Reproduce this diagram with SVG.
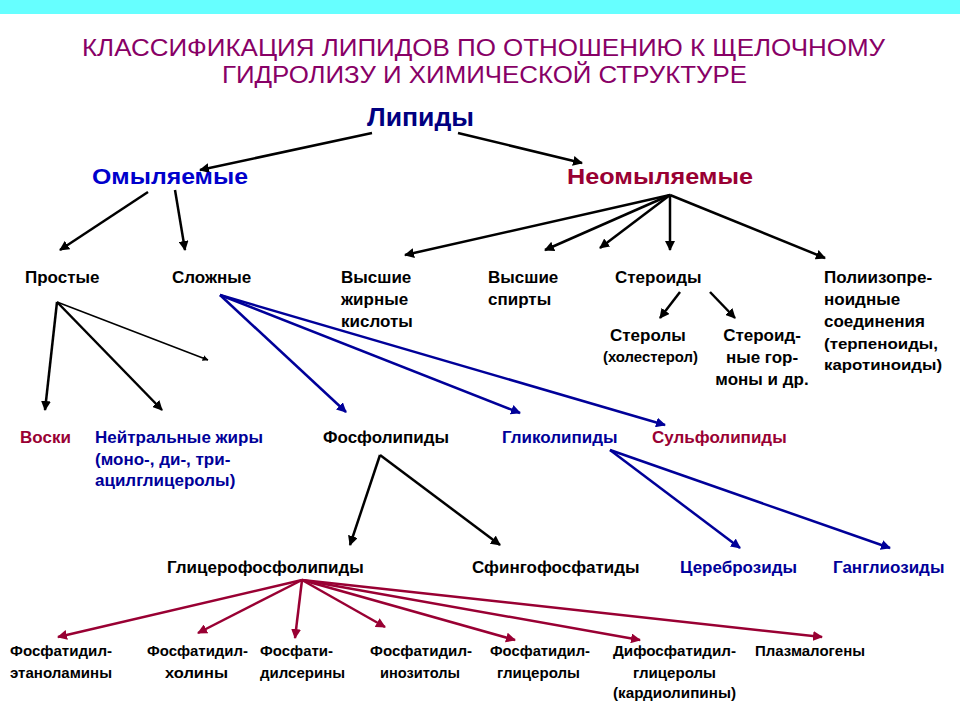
<svg xmlns="http://www.w3.org/2000/svg" width="960" height="720" viewBox="0 0 960 720">
<style>
text{font-family:"Liberation Sans",Arial,sans-serif;font-weight:bold}
.n{font-size:17px;fill:#000}
.s{font-size:15px;fill:#000}
.sm{font-size:15px;fill:#000}
.blue{fill:#000099}.mar{fill:#990033}
.lk{stroke:#000;stroke-width:2.5;fill:none;marker-end:url(#ak)}
.lb{stroke:#000099;stroke-width:2.5;fill:none;marker-end:url(#ab)}
.lm{stroke:#990033;stroke-width:2.5;fill:none;marker-end:url(#am)}
</style>
<defs>
<marker id="ak" viewBox="0 0 10 10" refX="9" refY="5" markerWidth="4" markerHeight="4" orient="auto"><path d="M0,0L10,5L0,10z" fill="#000"/></marker>
<marker id="ab" viewBox="0 0 10 10" refX="9" refY="5" markerWidth="4" markerHeight="4" orient="auto"><path d="M0,0L10,5L0,10z" fill="#000099"/></marker>
<marker id="am" viewBox="0 0 10 10" refX="9" refY="5" markerWidth="4" markerHeight="4" orient="auto"><path d="M0,0L10,5L0,10z" fill="#990033"/></marker>
</defs>
<rect width="960" height="720" fill="#fff"/>
<rect width="960" height="14" fill="#66ffff"/>
<g id="title">
<text x="82" y="56" font-size="24" textLength="803" lengthAdjust="spacingAndGlyphs" style="fill:#880066;font-weight:normal">КЛАССИФИКАЦИЯ ЛИПИДОВ ПО ОТНОШЕНИЮ К ЩЕЛОЧНОМУ</text>
<text x="222" y="83" font-size="24" textLength="525" lengthAdjust="spacingAndGlyphs" style="fill:#880066;font-weight:normal">ГИДРОЛИЗУ И ХИМИЧЕСКОЙ СТРУКТУРЕ</text>
</g>
<g id="connectors">
<path class="lk" d="M372,133L200,170"/><path class="lk" d="M458,133L582,163"/>
<path class="lk" d="M148,192L60,250"/><path class="lk" d="M175,190L185,250"/>
<path class="lk" d="M670,195L405,255"/><path class="lk" d="M670,195L545,250"/><path class="lk" d="M670,195L600,248"/><path class="lk" d="M670,195L670,250"/><path class="lk" d="M670,195L825,258"/>
<path class="lk" d="M680,292L660,318"/><path class="lk" d="M710,292L735,318"/>
<path class="lk" d="M57,302L45,410"/><path class="lk" d="M57,302L162,410"/><path class="lk" style="stroke-width:1.5" d="M57,302L208,360"/>
<path class="lb" d="M220,295L346,412"/><path class="lb" d="M220,295L520,413"/><path class="lb" d="M220,295L665,425"/>
<path class="lk" d="M380,455L350,545"/><path class="lk" d="M380,455L500,545"/>
<path class="lb" d="M610,450L740,548"/><path class="lb" d="M610,450L890,548"/>
<path class="lm" d="M302,580L58,637"/><path class="lm" d="M302,580L198,633"/><path class="lm" d="M302,580L295,638"/><path class="lm" d="M302,580L385,627"/><path class="lm" d="M302,580L515,640"/><path class="lm" d="M302,580L640,640"/><path class="lm" d="M302,580L822,637"/>
</g>
<g id="lipidy"><text x="367" y="126" font-size="25" textLength="107" lengthAdjust="spacingAndGlyphs" style="fill:#000080">Липиды</text></g>
<g id="omyl"><text x="92" y="184" font-size="22" textLength="156" lengthAdjust="spacingAndGlyphs" style="fill:#0000cc">Омыляемые</text></g>
<g id="neomyl"><text x="567" y="184" font-size="22" textLength="186" lengthAdjust="spacingAndGlyphs" class="mar">Неомыляемые</text></g>
<g id="prostye"><text class="n" x="25" y="283">Простые</text></g>
<g id="slozhnye"><text class="n" x="172" y="283">Сложные</text></g>
<g id="kisloty"><text class="n" x="341" y="283">Высшие</text><text class="n" x="341" y="305">жирные</text><text class="n" x="341" y="327">кислоты</text></g>
<g id="spirty"><text class="n" x="488" y="283">Высшие</text><text class="n" x="488" y="305">спирты</text></g>
<g id="steroidy"><text class="n" x="615" y="283">Стероиды</text></g>
<g id="poliizopren"><text class="n" x="824" y="283">Полиизопре-</text><text class="n" x="824" y="305">ноидные</text><text class="n" x="824" y="327">соединения</text><text class="s" x="824" y="349" textLength="114" lengthAdjust="spacingAndGlyphs">(терпеноиды,</text><text class="s" x="824" y="370" textLength="118" lengthAdjust="spacingAndGlyphs">каротиноиды)</text></g>
<g id="steroly"><text class="n" x="610" y="341">Стеролы</text><text class="s" x="603" y="362" textLength="95" lengthAdjust="spacingAndGlyphs">(холестерол)</text></g>
<g id="gormony" text-anchor="middle"><text class="n" x="762" y="341">Стероид-</text><text class="n" x="762" y="363">ные гор-</text><text class="n" x="762" y="385">моны и др.</text></g>
<g id="voski"><text class="n mar" x="20" y="443">Воски</text></g>
<g id="zhiry"><text class="n blue" x="95" y="443">Нейтральные жиры</text><text class="n blue" x="95" y="465">(моно-, ди-, три-</text><text class="n blue" x="95" y="486">ацилглицеролы)</text></g>
<g id="fosfolipidy"><text class="n" x="323" y="443">Фосфолипиды</text></g>
<g id="glikolipidy"><text class="n blue" x="502" y="443">Гликолипиды</text></g>
<g id="sulfolipidy"><text class="n mar" x="652" y="443">Сульфолипиды</text></g>
<g id="glicero"><text class="n" x="167" y="573">Глицерофосфолипиды</text></g>
<g id="sfingo"><text class="n" x="472" y="573">Сфингофосфатиды</text></g>
<g id="cerebrozidy"><text class="n blue" x="680" y="573">Цереброзиды</text></g>
<g id="gangliozidy"><text class="n blue" x="833" y="573">Ганглиозиды</text></g>
<g id="b1"><text class="sm" x="10" y="656" textLength="102" lengthAdjust="spacingAndGlyphs">Фосфатидил-</text><text class="sm" x="10" y="678" textLength="102" lengthAdjust="spacingAndGlyphs">этаноламины</text></g>
<g id="b2"><text class="sm" x="147" y="656" textLength="101" lengthAdjust="spacingAndGlyphs">Фосфатидил-</text><text class="sm" x="165" y="678" textLength="63" lengthAdjust="spacingAndGlyphs">холины</text></g>
<g id="b3"><text class="sm" x="260" y="656" textLength="73" lengthAdjust="spacingAndGlyphs">Фосфати-</text><text class="sm" x="260" y="678" textLength="85" lengthAdjust="spacingAndGlyphs">дилсерины</text></g>
<g id="b4"><text class="sm" x="370" y="656" textLength="102" lengthAdjust="spacingAndGlyphs">Фосфатидил-</text><text class="sm" x="380" y="678" textLength="80" lengthAdjust="spacingAndGlyphs">инозитолы</text></g>
<g id="b5"><text class="sm" x="490" y="656" textLength="100" lengthAdjust="spacingAndGlyphs">Фосфатидил-</text><text class="sm" x="497" y="678" textLength="83" lengthAdjust="spacingAndGlyphs">глицеролы</text></g>
<g id="b6"><text class="sm" x="613" y="656" textLength="123" lengthAdjust="spacingAndGlyphs">Дифосфатидил-</text><text class="sm" x="633" y="678" textLength="83" lengthAdjust="spacingAndGlyphs">глицеролы</text><text class="sm" x="613" y="698" textLength="123" lengthAdjust="spacingAndGlyphs">(кардиолипины)</text></g>
<g id="b7"><text class="sm" x="755" y="656" textLength="110" lengthAdjust="spacingAndGlyphs">Плазмалогены</text></g>
</svg>
